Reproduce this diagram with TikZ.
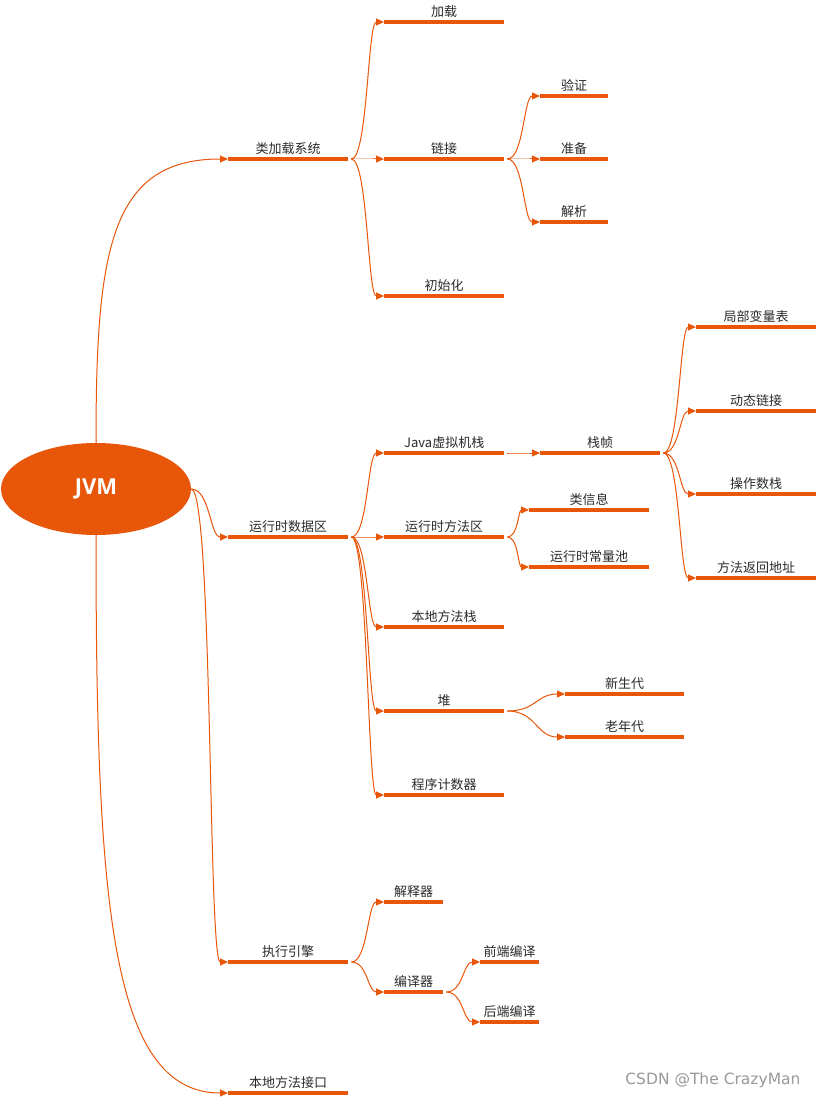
\documentclass[tikz,border=0pt]{standalone}
\usepackage{fontspec}
\setmainfont{Noto Sans CJK SC}
\newfontfamily\latinfont{Open Sans}
\newfontfamily\markfont{DejaVu Sans}
\usetikzlibrary{shapes.geometric,arrows.meta,calc}
\definecolor{brand}{HTML}{E8560A}
\definecolor{ink}{HTML}{2B2B2B}
\tikzset{basic/.style={fill=brand,inner sep=0pt}}
\tikzset{root/.style={basic,ellipse,minimum width=190pt,minimum height=92pt,
                      text=white,font=\latinfont\bfseries\fontsize{22}{26}\selectfont}}
\tikzset{topic/.style={basic,rectangle,anchor=west,minimum height=3.5pt,
                       minimum width=#1},topic/.default=120pt}
\tikzset{lbl/.style={text=ink,inner sep=0pt,yshift=2pt,font=\fontsize{13}{16}\selectfont}}
\tikzset{conn/.style={draw=brand,line width=1pt,-{Triangle[length=8pt,width=7pt]}}}
\newcommand{\branchto}[2]{\draw[conn] ([xshift=3pt]#1.east)
    let \p1=([xshift=3pt]#1.east), \p2=(#2.west) in
    .. controls ({(\x1+\x2)/2},\y1) and ({(\x1+\x2)/2},\y2) .. (#2.west);}

\begin{document}
\begin{tikzpicture}[x=1pt,y=-1pt]
    \path[use as bounding box,fill=white] (0,0) rectangle (818,1099);
    \node[root] (jvm) at (96,489) {JVM};
    \foreach \t/\nm/\yy in {类加载系统/cls/159,运行时数据区/rt/537,执行引擎/exe/962,本地方法接口/jni/1093}{%
          \node[topic,label={[lbl]above:\t}] (\nm) at (228,\yy) {};
        }
    \draw[conn] (jvm.north) .. controls (96,250) and (110,159) .. (cls.west);
    \draw[conn] (jvm.east) .. controls (210,489) and (210,537) .. (rt.west);
    \draw[conn] (jvm.east) .. controls (213,489) and (208,962) .. (exe.west);
    \draw[conn] (jvm.south) .. controls (96,900) and (110,1093) .. (jni.west);
    % class loading
    \foreach \t/\nm/\yy in {加载/load/22,链接/link/159,初始化/init/296}{%
          \node[topic,label={[lbl]above:\t}] (\nm) at (384,\yy) {};
          \branchto{cls}{\nm}
        }
    \foreach \t/\nm/\yy in {验证/verify/96,准备/prep/159,解析/resolve/222}{%
          \node[topic=68pt,label={[lbl]above:\t}] (\nm) at (540,\yy) {};
          \branchto{link}{\nm}
        }
    % runtime data area
    \foreach \t/\nm/\yy in {Java虚拟机栈/jstack/453,运行时方法区/marea/537,本地方法栈/nstack/627,堆/heap/711,程序计数器/pc/795}{%
          \node[topic,label={[lbl]above:\t}] (\nm) at (384,\yy) {};
          \branchto{rt}{\nm}
        }
    \node[topic,label={[lbl]above:栈帧}] (frame) at (540,453) {};
    \branchto{jstack}{frame}
    \foreach \t/\nm/\yy in {局部变量表/lvt/327,动态链接/dlink/411,操作数栈/opstack/494,方法返回地址/retaddr/578}{%
          \node[topic,label={[lbl]above:\t}] (\nm) at (696,\yy) {};
          \branchto{frame}{\nm}
        }
    \foreach \t/\nm/\yy in {类信息/cinfo/510,运行时常量池/cpool/567}{%
          \node[topic,label={[lbl]above:\t}] (\nm) at (529,\yy) {};
          \branchto{marea}{\nm}
        }
    \foreach \t/\nm/\yy in {新生代/young/694,老年代/old/737}{%
          \node[topic=119pt,label={[lbl]above:\t}] (\nm) at (565,\yy) {};
          \branchto{heap}{\nm}
        }
    % execution engine
    \foreach \t/\nm/\yy in {解释器/interp/902,编译器/jit/992}{%
          \node[topic=59pt,label={[lbl]above:\t}] (\nm) at (384,\yy) {};
          \branchto{exe}{\nm}
        }
    \foreach \t/\nm/\yy in {前端编译/front/962,后端编译/back/1022}{%
          \node[topic=59pt,label={[lbl]above:\t}] (\nm) at (480,\yy) {};
          \branchto{jit}{\nm}
        }
    \node[anchor=east,text=black!40,font=\markfont\fontsize{15.5}{18}\selectfont] (mark) at (804,1080) {CSDN @The CrazyMan};
\end{tikzpicture}
\end{document}
